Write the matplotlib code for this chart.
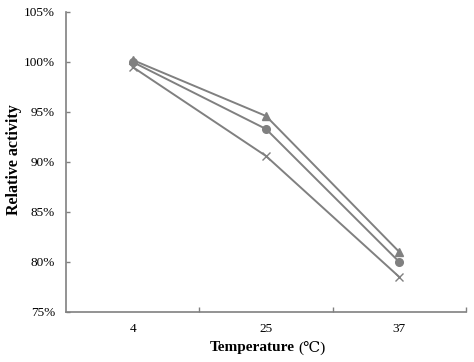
import matplotlib
matplotlib.use("Agg")
import matplotlib.pyplot as plt
from matplotlib.ticker import FixedLocator, PercentFormatter

categories = ["4", "25", "37"]
series_triangle = [100.2, 94.6, 81.0]
series_circle = [100.0, 93.3, 80.0]
series_cross = [99.5, 90.6, 78.5]
yticks = [75, 80, 85, 90, 95, 100, 105]

plt.rcParams['font.family'] = ['Liberation Serif', 'DejaVu Serif']
gray = '#808080'

fig = plt.figure(figsize=(4.74, 3.62), dpi=100)
ax = fig.add_axes([66/474, 1-312/362, 400/474, 300/362])

x = list(range(len(categories)))
ax.plot(x, series_triangle, color=gray, lw=1.4, marker='^', ms=6, mec=gray, mfc=gray)
ax.plot(x, series_circle, color=gray, lw=1.4, marker='o', ms=5.5, mec=gray, mfc=gray)
ax.plot(x, series_cross, color=gray, lw=1.4, marker='x', ms=6, mew=1.0, mec=gray)

ax.set_xlim(-0.5, len(categories) - 0.5)
ax.set_ylim(75, 105)
ax.set_yticks(yticks)
ax.yaxis.set_major_formatter(PercentFormatter(decimals=0))
ax.set_xticks(x)
ax.set_xticklabels(categories)
ax.xaxis.set_minor_locator(FixedLocator([0.5, 1.5, 2.5]))
ax.tick_params(axis='x', which='major', length=0, pad=8, labelsize=9.5)
ax.tick_params(axis='x', which='minor', direction='in', length=3.5, color=gray, width=1)
ax.tick_params(axis='y', direction='in', length=3, color=gray, width=1, labelsize=9.5, pad=8)

for s in ['top', 'right']:
    ax.spines[s].set_visible(False)
for s in ['left', 'bottom']:
    ax.spines[s].set_color(gray)
    ax.spines[s].set_linewidth(1.2)

fig.text(14/474, 1-160/362, "Relative activity", rotation=90, ha='center', va='center',
         fontsize=11.5, fontweight='bold')
fig.text(295/474, 1-348/362, "Temperature", ha='right', va='center', fontsize=11, fontweight='bold')
fig.text(298/474, 1-348/362, "(℃)", ha='left', va='center', fontsize=11)

fig.savefig("out.png", dpi=100)
